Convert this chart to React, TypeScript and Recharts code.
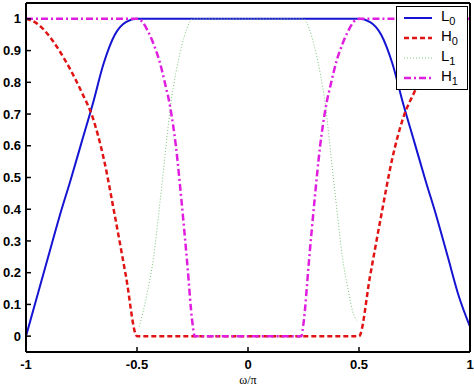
import React from "react";
import { LineChart, Line, XAxis, YAxis, Legend } from "recharts";

// ω/π positions and response values
const l0Omega = [-1, -0.95, -0.9, -0.85, -0.8, -0.75, -0.7, -0.65, -0.6, -0.55, -0.5, 0.5, 0.55, 0.6, 0.65, 0.7, 0.75, 0.8, 0.85, 0.9, 0.95, 1];
const l0Values = [0, 0.125, 0.25, 0.375, 0.49, 0.61, 0.73, 0.86, 0.95, 0.99, 1, 1, 0.99, 0.95, 0.86, 0.73, 0.61, 0.49, 0.375, 0.25, 0.125, 0.03];

const h0Omega = [-1, -0.95, -0.9, -0.85, -0.8, -0.75, -0.7, -0.65, -0.6, -0.55, -0.5, 0.5, 0.55, 0.6, 0.65, 0.7, 0.75, 0.8, 0.85, 0.9, 0.95, 1];
const h0Values = [1, 0.985, 0.95, 0.9, 0.84, 0.77, 0.69, 0.56, 0.38, 0.19, 0, 0, 0.19, 0.38, 0.56, 0.69, 0.77, 0.84, 0.9, 0.95, 0.985, 1];

const l1Omega = [-0.49, -0.475, -0.45, -0.425, -0.4, -0.375, -0.35, -0.325, -0.3, -0.275, -0.25, 0.25, 0.275, 0.3, 0.325, 0.35, 0.375, 0.4, 0.425, 0.45, 0.475, 0.49];
const l1Values = [0.03, 0.07, 0.15, 0.25, 0.4, 0.56, 0.72, 0.83, 0.91, 0.97, 1, 1, 0.97, 0.91, 0.83, 0.72, 0.56, 0.4, 0.25, 0.15, 0.07, 0.05];

const h1Omega = [-1, -0.5, -0.475, -0.45, -0.425, -0.4, -0.375, -0.35, -0.325, -0.3, -0.275, -0.25, -0.24, 0.24, 0.25, 0.275, 0.3, 0.325, 0.35, 0.375, 0.4, 0.425, 0.45, 0.475, 0.5, 1];
const h1Values = [1, 1, 0.99, 0.96, 0.92, 0.87, 0.8, 0.72, 0.6, 0.43, 0.24, 0.04, 0, 0, 0.04, 0.24, 0.43, 0.6, 0.72, 0.8, 0.87, 0.92, 0.96, 0.99, 1, 1];

const xTicks = [-1, -0.5, 0, 0.5, 1];
const yTicks = [0, 0.1, 0.2, 0.3, 0.4, 0.5, 0.6, 0.7, 0.8, 0.9, 1];
const seriesNames = ["L", "H", "L", "H"];
const seriesSubs = ["0", "0", "1", "1"];

const zip = (xs: number[], ys: number[]) => xs.map((w, i) => ({ w, v: ys[i] }));

const styles = [
  { stroke: "#1414d2", strokeWidth: 2, dash: undefined as string | undefined },
  { stroke: "#e01414", strokeWidth: 2.5, dash: "5 3" },
  { stroke: "#7cc47c", strokeWidth: 1, dash: "1 2" },
  { stroke: "#e01ee0", strokeWidth: 2.5, dash: "7 3 2 3" },
];

const datasets = [
  zip(l0Omega, l0Values),
  zip(h0Omega, h0Values),
  zip(l1Omega, l1Values),
  zip(h1Omega, h1Values),
];

const tickFont = {
  fill: "#000",
  fontSize: 13,
  fontWeight: "bold" as const,
  fontFamily: "'Liberation Sans', Arial, sans-serif",
};

const axisLine = { stroke: "#000", strokeWidth: 2 };
const tickLine = { stroke: "#000", strokeWidth: 1.5 };

const fmt = (v: number) => String(+v.toFixed(1));

function LegendBox() {
  return (
    <div
      style={{
        width: 72,
        height: 84,
        border: "1px solid #000",
        background: "#fff",
        boxSizing: "border-box",
        paddingTop: 1,
        fontFamily: "'Liberation Sans', Arial, sans-serif",
        fontSize: 15,
        color: "#000",
      }}
    >
      {styles.map((s, i) => (
        <div key={i} style={{ height: 20, display: "flex", alignItems: "center" }}>
          <svg width={40} height={10} style={{ marginLeft: 4 }}>
            <line x1={3} y1={5} x2={31} y2={5} stroke={s.stroke} strokeWidth={s.strokeWidth} strokeDasharray={s.dash} />
          </svg>
          <span style={{ lineHeight: "14px" }}>
            {seriesNames[i]}
            <sub style={{ fontSize: 11 }}>{seriesSubs[i]}</sub>
          </span>
        </div>
      ))}
    </div>
  );
}

export default function App() {
  return (
    <div style={{ position: "relative", width: 474, height: 386 }}>
      <style>{"body{margin:0;background:#fff}"}</style>
      <LineChart width={474} height={386} margin={{ top: 2, right: 3, left: 0, bottom: 0 }}>
        <XAxis
          dataKey="w"
          type="number"
          domain={[-1, 1]}
          ticks={xTicks}
          tickFormatter={fmt}
          height={34}
          tick={tickFont}
          axisLine={axisLine}
          tickLine={tickLine}
          tickSize={-5}
          tickMargin={13}
          label={{ value: "ω/π", position: "insideBottom", offset: 2, fill: "#000", fontSize: 12, fontFamily: "'Liberation Serif', serif" }}
        />
        <XAxis
          xAxisId="top"
          orientation="top"
          type="number"
          domain={[-1, 1]}
          ticks={xTicks}
          height={1}
          tick={false}
          axisLine={axisLine}
          tickLine={tickLine}
          tickSize={-5}
        />
        <YAxis
          type="number"
          domain={[-0.05, 1.05]}
          ticks={yTicks}
          tickFormatter={fmt}
          width={26}
          tick={tickFont}
          axisLine={axisLine}
          tickLine={tickLine}
          tickSize={-5}
          tickMargin={10}
        />
        <YAxis
          yAxisId="right"
          orientation="right"
          type="number"
          domain={[-0.05, 1.05]}
          ticks={yTicks}
          width={1}
          tick={false}
          axisLine={axisLine}
          tickLine={tickLine}
          tickSize={-5}
        />
        {datasets.map((d, i) => (
          <Line
            key={i}
            data={d}
            dataKey="v"
            type="monotone"
            stroke={styles[i].stroke}
            strokeWidth={styles[i].strokeWidth}
            strokeDasharray={styles[i].dash}
            dot={false}
            activeDot={false}
            isAnimationActive={false}
          />
        ))}
        <Legend
          layout="vertical"
          align="center"
          verticalAlign="middle"
          wrapperStyle={{ position: "absolute", left: 396, top: 6, width: 72, height: 84 }}
          content={() => <LegendBox />}
        />
      </LineChart>
    </div>
  );
}
